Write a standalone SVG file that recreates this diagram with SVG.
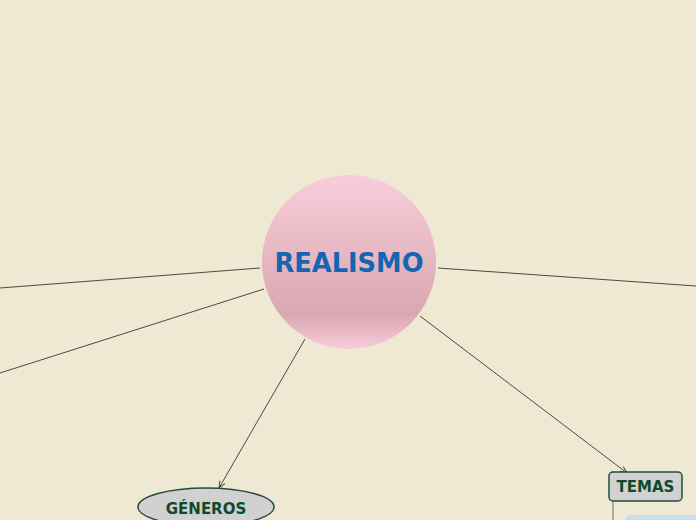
<svg xmlns="http://www.w3.org/2000/svg" width="696" height="520" viewBox="0 0 696 520">
<defs>
<linearGradient id="pink" x1="0" y1="0" x2="0" y2="1">
<stop offset="0" stop-color="#f8cdda"/>
<stop offset="0.8" stop-color="#d8a8b2"/>
<stop offset="1" stop-color="#f8ccda"/>
</linearGradient>
<marker id="arr" markerWidth="8" markerHeight="8" refX="7" refY="4" orient="auto" markerUnits="userSpaceOnUse">
<path d="M0,1 L7,4 L0,7" fill="none" stroke="#444" stroke-width="1"/>
</marker>
<style>
.c{stroke:#4a4a40;stroke-width:1;fill:none}
.sub{fill:#d0d1d0;stroke:#1f4f3b;stroke-width:1.5}
.lbl{font-family:"DejaVu Sans",Verdana,sans-serif;font-weight:bold;fill:#0f4a2e;text-anchor:middle}
</style>
</defs>
<rect width="696" height="520" fill="#efe8d2"/>
<g id="connectors">
<line class="c" x1="260" y1="268" x2="0" y2="288"/>
<line class="c" x1="264" y1="289" x2="0" y2="373"/>
<line class="c" x1="438" y1="268" x2="696" y2="286"/>
<line class="c" x1="305" y1="339" x2="219" y2="488" marker-end="url(#arr)"/>
<line class="c" x1="420" y1="316" x2="627" y2="473" marker-end="url(#arr)"/>
<line x1="613" y1="501" x2="613" y2="520" stroke="#9a9a92" stroke-width="1.5"/>
</g>
<g id="realismo">
<circle cx="349" cy="262" r="87" fill="url(#pink)"/>
<text x="349" y="272" font-family="DejaVu Sans,Verdana,sans-serif" font-weight="bold" font-size="25.7" fill="#1565b0" text-anchor="middle">REALISMO</text>
</g>
<g id="generos">
<ellipse class="sub" cx="206" cy="507" rx="68" ry="19"/>
<text class="lbl" x="206" y="514" font-size="15">GÉNEROS</text>
</g>
<g id="temas">
<rect class="sub" x="609" y="472" width="73" height="29" rx="4"/>
<text class="lbl" x="645.5" y="492" font-size="15">TEMAS</text>
</g>
<g id="temas-child">
<rect x="625" y="515" width="90" height="30" rx="6" fill="#c8e0ee"/>
</g>
</svg>
